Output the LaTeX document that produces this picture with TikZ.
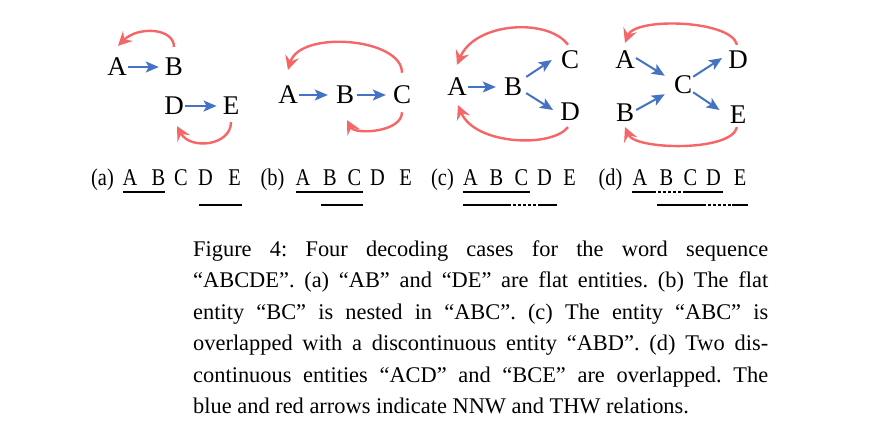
\documentclass[tikz,border=0pt]{standalone}
\usepackage{fontspec}
\setmainfont{Liberation Serif}
\usetikzlibrary{arrows.meta,calc}
\definecolor{nnw}{RGB}{68,114,196}
\definecolor{thw}{RGB}{246,102,102}
\frenchspacing
\begin{document}
\begin{tikzpicture}[x=1pt,y=-1pt,
  lt/.style={inner sep=0pt, font=\fontsize{27}{27}\selectfont},
  lab/.style={inner sep=0pt, anchor=base, font=\fontsize{24}{24}\selectfont},
  bl/.style={draw=nnw, line width=2pt, -{Stealth[length=13pt,width=11pt,inset=3pt]}},
  rd/.style={draw=thw, line width=2.4pt, -{Stealth[length=14pt,width=14pt,inset=5pt]}},
  ul/.style={line width=1.3pt},
  uld/.style={line width=1.3pt, dash pattern=on 3pt off 2pt},
  capl/.style={inner sep=0pt, anchor=base west, font=\fontsize{22.4}{22.4}\selectfont}]
\useasboundingbox (0,0) rectangle (878,440);
\fill[white] (0,0) rectangle (878,440);

% ---------- (a)
\node[lt] (aA) at (117,67) {A};
\node[lt] (aB) at (174,67) {B};
\node[lt] (aD) at (174,106) {D};
\node[lt] (aE) at (231,106) {E};
\draw[bl] ($(aA.east)+(1,0)$) -- ($(aB.west)+(-6,0)$);
\draw[bl] ($(aD.east)+(1,0)$) -- ($(aE.west)+(-6,0)$);
\draw[rd] ($(aB.north)+(0,-11)$) .. controls ($(aB.north)+(0,-30)$) and ($(aA.north)+(21,-32)$) .. ($(aA.north)+(1,-12)$);
\draw[rd] ($(aE.south)+(0,7)$) .. controls ($(aE.south)+(0,31)$) and ($(aD.south)+(16,35)$) .. ($(aD.south)+(3,11)$);

% ---------- (b)
\node[lt] (bA) at (288,95) {A};
\node[lt] (bB) at (345,95) {B};
\node[lt] (bC) at (402,95) {C};
\draw[bl] ($(bA.east)+(1,0)$) -- ($(bB.west)+(-8,0)$);
\draw[bl] ($(bB.east)+(3,0)$) -- ($(bC.west)+(-7,0)$);
\draw[rd] ($(bC.north)+(0,-13)$) .. controls ($(bC.north)+(0,-48)$) and ($(bA.north)+(12,-56)$) .. ($(bA.north)+(0,-16)$);
\draw[rd] ($(bC.south)+(0,8)$) .. controls ($(bC.south)+(0,28)$) and ($(bB.south)+(10,31)$) .. ($(bB.south)+(2,16)$);

% ---------- (c)
\node[lt] (cA) at (457,87) {A};
\node[lt] (cB) at (513,87) {B};
\node[lt] (cC) at (570,60) {C};
\node[lt] (cD) at (570,112) {D};
\draw[bl] ($(cA.east)+(1,0)$) -- ($(cB.west)+(-8,0)$);
\draw[bl] ($(cB.north east)+(4,-1)$) -- ($(cC.west)+(-9,0)$);
\draw[bl] ($(cB.south east)+(4,-3)$) -- ($(cD.west)+(-7,-2)$);
\draw[rd] ($(cC.north)+(-2,-6)$) .. controls ($(cC.north)+(-22,-33)$) and ($(cA.north)+(18,-56)$) .. ($(cA.north)+(0,-13)$);
\draw[rd] ($(cD.south)+(-2,6)$) .. controls ($(cD.south)+(-18,27)$) and ($(cA.south)+(18,49)$) .. ($(cA.south)+(1,9)$);

% ---------- (d)
\node[lt] (dA) at (625,60) {A};
\node[lt] (dB) at (625,113) {B};
\node[lt] (dC) at (683,85) {C};
\node[lt] (dD) at (738,60) {D};
\node[lt] (dE) at (738,115) {E};
\draw[bl] ($(dA.east)+(1,-2)$) -- ($(dC.north west)+(-9,0)$);
\draw[bl] ($(dB.east)+(2,-3)$) -- ($(dC.south west)+(-9,0)$);
\draw[bl] ($(dC.north east)+(1,1)$) -- ($(dD.west)+(-6,-2)$);
\draw[bl] ($(dC.south east)+(1,-2)$) -- ($(dE.west)+(-10,-5)$);
\draw[rd] ($(dD.north)+(-1,-6)$) .. controls ($(dD.north)+(-6,-31)$) and ($(dA.north)+(10,-34)$) .. ($(dA.north)+(0,-8)$);
\draw[rd] ($(dE.south)+(-1,3)$) .. controls ($(dE.south)+(-6,28)$) and ($(dB.south)+(10,28)$) .. ($(dB.south)+(0,5)$);

% ---------- label rows
\node[lab] (la) at (102.5,185) {\scalebox{0.85}[1]{(a)}};
\node[lab] (laA) at (130,185) {\scalebox{0.85}[1]{A}};
\node[lab] (laB) at (158.5,185) {\scalebox{0.85}[1]{B}};
\node[lab] (laC) at (181,185) {\scalebox{0.85}[1]{C}};
\node[lab] (laD) at (205.5,185) {\scalebox{0.85}[1]{D}};
\node[lab] (laE) at (234.5,185) {\scalebox{0.85}[1]{E}};
\draw[ul] (123,192) -- (165,192);
\draw[ul] (199,205) -- (242,205);

\node[lab] (lb) at (272.5,185) {\scalebox{0.85}[1]{(b)}};
\node[lab] (lbA) at (303,185) {\scalebox{0.85}[1]{A}};
\node[lab] (lbB) at (330,185) {\scalebox{0.85}[1]{B}};
\node[lab] (lbC) at (354.5,185) {\scalebox{0.85}[1]{C}};
\node[lab] (lbD) at (377.5,185) {\scalebox{0.85}[1]{D}};
\node[lab] (lbE) at (405.5,185) {\scalebox{0.85}[1]{E}};
\draw[ul] (296,192) -- (363,192);
\draw[ul] (321,205) -- (363,205);

\node[lab] (lc) at (442.5,185) {\scalebox{0.85}[1]{(c)}};
\node[lab] (lcA) at (470.5,185) {\scalebox{0.85}[1]{A}};
\node[lab] (lcB) at (496.5,185) {\scalebox{0.85}[1]{B}};
\node[lab] (lcC) at (521.5,185) {\scalebox{0.85}[1]{C}};
\node[lab] (lcD) at (544.5,185) {\scalebox{0.85}[1]{D}};
\node[lab] (lcE) at (569.5,185) {\scalebox{0.85}[1]{E}};
\draw[ul] (463,192) -- (530,192);
\draw[ul] (463,205) -- (508,205);
\draw[uld] (508,205) -- (538,205);
\draw[ul] (538,205) -- (557,205);

\node[lab] (ld) at (610.5,185) {\scalebox{0.85}[1]{(d)}};
\node[lab] (ldA) at (640,185) {\scalebox{0.85}[1]{A}};
\node[lab] (ldB) at (666.5,185) {\scalebox{0.85}[1]{B}};
\node[lab] (ldC) at (690.5,185) {\scalebox{0.85}[1]{C}};
\node[lab] (ldD) at (713.5,185) {\scalebox{0.85}[1]{D}};
\node[lab] (ldE) at (740,185) {\scalebox{0.85}[1]{E}};
\draw[ul] (632,192) -- (653,192);
\draw[uld] (653,192) -- (683,192);
\draw[ul] (683,192) -- (723,192);
\draw[ul] (657,205) -- (703,205);
\draw[uld] (703,205) -- (732,205);
\draw[ul] (732,205) -- (748,205);

% ---------- caption
\node[capl] (c1) at (193,256) {\makebox[575pt][s]{Figure 4: Four decoding cases for the word sequence}};
\node[capl] (c2) at (193,287.5) {\makebox[575pt][s]{“ABCDE”. (a) “AB” and “DE” are flat entities. (b) The flat}};
\node[capl] (c3) at (193,319) {\makebox[575pt][s]{entity “BC” is nested in “ABC”. (c) The entity “ABC” is}};
\node[capl] (c4) at (193,350.5) {\makebox[575pt][s]{overlapped with a discontinuous entity “ABD”. (d) Two dis-}};
\node[capl] (c5) at (193,382) {\makebox[575pt][s]{continuous entities “ACD” and “BCE” are overlapped. The}};
\node[capl] (c6) at (193,413.5) {blue and red arrows indicate NNW and THW relations.};
\end{tikzpicture}
\end{document}
